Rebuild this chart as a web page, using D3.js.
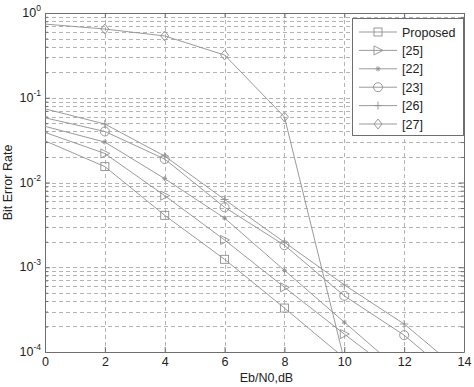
<!DOCTYPE html>
<html>
<head>
<meta charset="utf-8">
<script src="https://cdn.jsdelivr.net/npm/d3@7"></script>
<style>
  body { margin: 0; background: #fff; }
  text { font-family: "Liberation Sans", Arial, sans-serif; }
</style>
</head>
<body>
<div id="wrapper"></div>
<script>
// Eb/N0 points (dB) shared by all curves
const ebn0 = [0, 2, 4, 6, 8, 10, 12, 14]

// bit error rate, one array per curve
const proposed = [0.031, 0.0154, 0.0041, 0.00124, 0.00033, 0.000085]
const ref25 = [0.039, 0.022, 0.0070, 0.0021, 0.00058, 0.000163, 0.000047]
const ref22 = [0.046, 0.030, 0.0111, 0.0038, 0.00092, 0.000225, 0.000055]
const ref23 = [0.058, 0.040, 0.0189, 0.0051, 0.00182, 0.00046, 0.000158, 0.00004]
const ref26 = [0.074, 0.049, 0.0205, 0.0063, 0.00197, 0.00062, 0.000214, 0.000055]
const ref27 = [0.74, 0.647, 0.536, 0.319, 0.0593, 0.00008]

const seriesNames = ['Proposed', '[25]', '[22]', '[23]', '[26]', '[27]']
const seriesValues = [proposed, ref25, ref22, ref23, ref26, ref27]
const seriesMarkers = ['square', 'triangle', 'star', 'circle', 'plus', 'diamond']

const xTicks = [0, 2, 4, 6, 8, 10, 12, 14]
const yExponents = [0, -1, -2, -3, -4]

const dimensions = {
	width: 474,
	height: 387,
	margin: { top: 13, right: 10, bottom: 35, left: 45 },
}
dimensions.boundedWidth = dimensions.width - dimensions.margin.left - dimensions.margin.right
dimensions.boundedHeight = dimensions.height - dimensions.margin.top - dimensions.margin.bottom

const lineColor = '#8e8e8e'
const gridColor = '#b4b4b4'
const axisColor = '#6e6e6e'

const svg = d3.select('#wrapper')
	.append('svg')
	.attr('width', dimensions.width)
	.attr('height', dimensions.height)

const bounds = svg.append('g')
	.attr('transform', `translate(${dimensions.margin.left},${dimensions.margin.top})`)

const xScale = d3.scaleLinear()
	.domain([0, 14])
	.range([0, dimensions.boundedWidth])

const yScale = d3.scaleLog()
	.domain([1e-4, 1])
	.range([dimensions.boundedHeight, 0])

// minor + major log positions for grid and ticks
const yGridValues = []
yExponents.forEach(e => {
	if (e === 0) return
	for (let k = 1; k <= 9; k++) yGridValues.push(k * Math.pow(10, e))
})
yGridValues.push(1)

// grid
const grid = bounds.append('g')
grid.selectAll('.hgrid')
	.data(yGridValues.filter(v => v > 1e-4 && v < 1))
	.enter().append('line')
	.attr('x1', 0)
	.attr('x2', dimensions.boundedWidth)
	.attr('y1', d => Math.round(yScale(d)) + 0.5)
	.attr('y2', d => Math.round(yScale(d)) + 0.5)
	.attr('stroke', gridColor)
	.attr('stroke-dasharray', '4,3')

grid.selectAll('.vgrid')
	.data(xTicks.slice(1, -1))
	.enter().append('line')
	.attr('x1', d => Math.round(xScale(d)) + 0.5)
	.attr('x2', d => Math.round(xScale(d)) + 0.5)
	.attr('y1', 0)
	.attr('y2', dimensions.boundedHeight)
	.attr('stroke', gridColor)
	.attr('stroke-dasharray', '4,3')

// axes drawn with d3 axis generators, ticks pointing inside
const xAxis = bounds.append('g')
	.attr('transform', `translate(0,${dimensions.boundedHeight})`)
	.call(d3.axisBottom(xScale).tickValues(xTicks).tickSizeInner(-5).tickSizeOuter(0).tickPadding(5))
const xAxisTop = bounds.append('g')
	.call(d3.axisTop(xScale).tickValues(xTicks).tickSizeInner(-5).tickSizeOuter(0).tickFormat(''))

const yAxis = bounds.append('g')
	.call(d3.axisLeft(yScale).tickValues(yGridValues).tickSizeInner(0).tickSizeOuter(0).tickFormat(''))
const yAxisRight = bounds.append('g')
	.attr('transform', `translate(${dimensions.boundedWidth},0)`)
	.call(d3.axisRight(yScale).tickValues(yGridValues).tickSizeInner(0).tickSizeOuter(0).tickFormat(''))

// major ticks longer than minor
yAxis.selectAll('.tick line').attr('x2', d => Number.isInteger(Math.log10(d)) ? 5 : 3)
yAxisRight.selectAll('.tick line').attr('x2', d => Number.isInteger(Math.log10(d)) ? -5 : -3)

;[xAxis, xAxisTop, yAxis, yAxisRight].forEach(a => {
	a.select('.domain').attr('stroke', axisColor)
	a.selectAll('.tick line').attr('stroke', axisColor)
})
xAxis.selectAll('.tick text')
	.attr('fill', '#222')
	.style('font-size', '12.5px')
	.style('font-family', '"Liberation Sans", Arial, sans-serif')

// y tick labels as 10 with superscript exponent
const yLabels = bounds.append('g')
yExponents.forEach(e => {
	const t = yLabels.append('text')
		.attr('x', -4)
		.attr('y', yScale(Math.pow(10, e)) + 4)
		.attr('text-anchor', 'end')
		.attr('fill', '#222')
		.style('font-size', '12.5px')
	t.append('tspan').text('10')
	t.append('tspan').attr('dy', -6).style('font-size', '8.5px').text(e)
})

// axis titles
svg.append('text')
	.attr('x', dimensions.margin.left + xScale(7.4))
	.attr('y', 382)
	.attr('text-anchor', 'middle')
	.attr('fill', '#222')
	.style('font-size', '12.5px')
	.text('Eb/N0,dB')

svg.append('text')
	.attr('transform', `translate(12,${dimensions.margin.top + dimensions.boundedHeight / 2}) rotate(-90)`)
	.attr('text-anchor', 'middle')
	.attr('fill', '#222')
	.style('font-size', '12.5px')
	.text('Bit Error Rate')

// marker shapes
function drawMarker(g, type) {
	const s = 4
	if (type === 'square') {
		g.append('rect').attr('x', -s).attr('y', -s).attr('width', 2 * s).attr('height', 2 * s)
	} else if (type === 'triangle') {
		g.append('path').attr('d', `M${-s},${-s - 0.5}L${s + 1},0L${-s},${s + 0.5}Z`)
	} else if (type === 'star') {
		g.append('path').attr('d', 'M-2.5,0H2.5M0,-2.5V2.5M-1.8,-1.8L1.8,1.8M-1.8,1.8L1.8,-1.8')
	} else if (type === 'circle') {
		g.append('circle').attr('r', s + 0.5)
	} else if (type === 'plus') {
		g.append('path').attr('d', `M${-s},0H${s}M0,${-s}V${s}`)
	} else if (type === 'diamond') {
		g.append('path').attr('d', `M0,${-s - 1}L${s},0L0,${s + 1}L${-s},0Z`)
	}
	g.attr('fill', 'none').attr('stroke', lineColor).attr('stroke-width', 0.9)
}

// curves, clipped to plot area
svg.append('defs').append('clipPath').attr('id', 'plot-clip')
	.append('rect')
	.attr('width', dimensions.boundedWidth)
	.attr('height', dimensions.boundedHeight)

const plot = bounds.append('g').attr('clip-path', 'url(#plot-clip)')

const lineGenerator = d3.line()
	.x((d, i) => xScale(ebn0[i]))
	.y(d => yScale(d))

seriesValues.forEach((values, si) => {
	plot.append('path')
		.datum(values)
		.attr('d', lineGenerator)
		.attr('fill', 'none')
		.attr('stroke', lineColor)
		.attr('stroke-width', 0.9)

	values.forEach((v, i) => {
		if (ebn0[i] === 0) return
		const g = plot.append('g')
			.attr('transform', `translate(${xScale(ebn0[i])},${yScale(v)})`)
		drawMarker(g, seriesMarkers[si])
	})
})

// legend
const legend = svg.append('g').attr('transform', 'translate(352,18)')
legend.append('rect')
	.attr('x', 0.5).attr('y', 0.5)
	.attr('width', 111).attr('height', 117)
	.attr('fill', '#fff')
	.attr('stroke', axisColor)

seriesNames.forEach((name, i) => {
	const row = legend.append('g').attr('transform', `translate(0,${14 + i * 18.4})`)
	row.append('line')
		.attr('x1', 7).attr('x2', 45)
		.attr('stroke', lineColor).attr('stroke-width', 0.9)
	drawMarker(row.append('g').attr('transform', 'translate(26,0)'), seriesMarkers[i])
	row.append('text')
		.attr('x', 50)
		.attr('y', 4.5)
		.attr('fill', '#222')
		.style('font-size', '12.5px')
		.text(name)
})
</script>
</body>
</html>
